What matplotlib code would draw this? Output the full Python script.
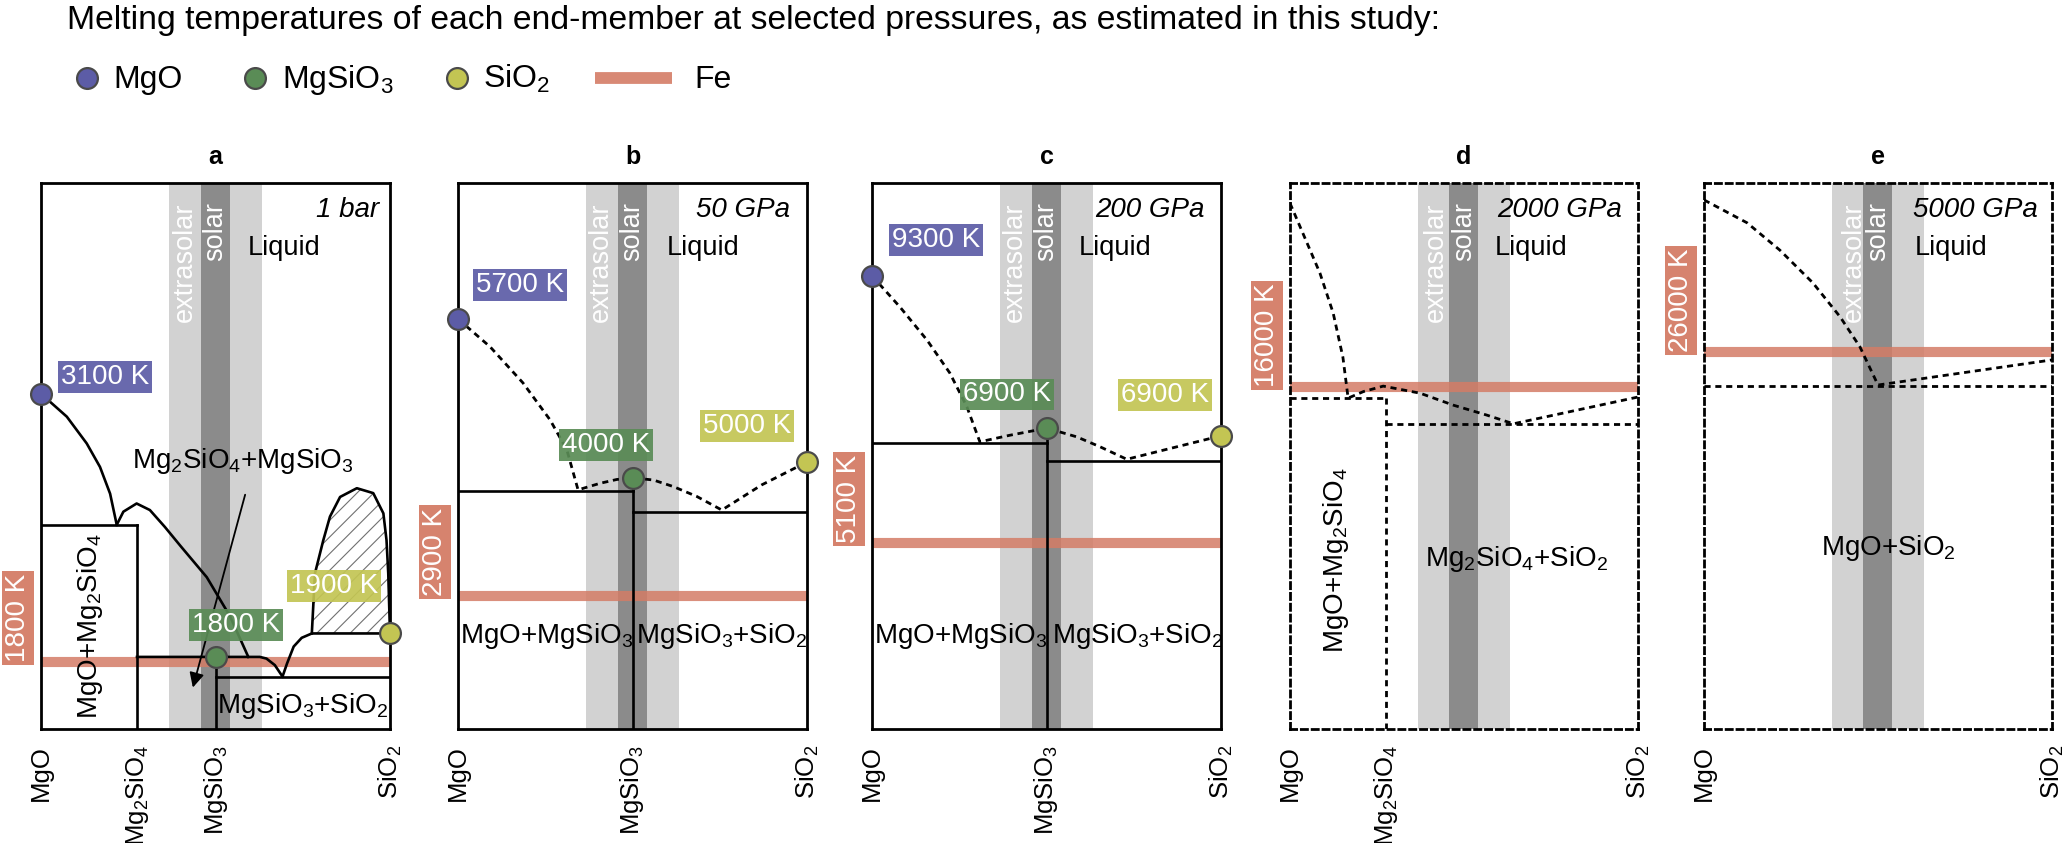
import matplotlib.pyplot as plt

plt.rcParams['font.family'] = ['Liberation Sans', 'DejaVu Sans']
plt.rcParams['mathtext.fontset'] = 'custom'
plt.rcParams['mathtext.rm'] = 'Liberation Sans'
plt.rcParams['mathtext.it'] = 'Liberation Sans:italic'
plt.rcParams['mathtext.bf'] = 'Liberation Sans:bold'
plt.rcParams['hatch.linewidth'] = 0.8

title = 'Melting temperatures of each end-member at selected pressures, as estimated in this study:'

# schematic axes: x = composition (0 = MgO, 1 = SiO2), y = relative temperature in a panel
panel_ids = ['a', 'b', 'c', 'd', 'e']
pressures = ['1 bar', '50 GPa', '200 GPa', '2000 GPa', '5000 GPa']
fe_temps = ['1800 K', '2900 K', '5100 K', '16000 K', '26000 K']
fe_level = [0.123, 0.244, 0.34, 0.626, 0.69]

# end-member melting points, panels a-c
mgo_level = [0.614, 0.751, 0.83]
en_level = [0.132, 0.46, 0.551]
si_level = [0.175, 0.489, 0.537]
mgo_temps = ['3100 K', '5700 K', '9300 K']
en_temps = ['1800 K', '4000 K', '6900 K']
si_temps = ['1900 K', '5000 K', '6900 K']
mgo_lab_xy = [(0.183, 0.645), (0.178, 0.813), (0.183, 0.896)]
en_lab_xy = [(0.559, 0.19), (0.424, 0.52), (0.387, 0.613)]
si_lab_xy = [(0.84, 0.262), (0.829, 0.555), (0.84, 0.612)]

# composition ticks
x_fo = 0.275
x_en = 0.5
tick_pos = [[0, x_fo, x_en, 1], [0, x_en, 1], [0, x_en, 1], [0, x_fo, 1], [0, 1]]
tick_names = [['MgO', 'Mg$_2$SiO$_4$', 'MgSiO$_3$', 'SiO$_2$'],
              ['MgO', 'MgSiO$_3$', 'SiO$_2$'],
              ['MgO', 'MgSiO$_3$', 'SiO$_2$'],
              ['MgO', 'Mg$_2$SiO$_4$', 'SiO$_2$'],
              ['MgO', 'SiO$_2$']]

# panel a (1 bar), solid phase boundaries
a_liq_mgo_x = [0, 0.074, 0.131, 0.169, 0.198, 0.217]
a_liq_mgo_y = [0.614, 0.572, 0.523, 0.480, 0.431, 0.374]
a_liq_fo_x = [0.217, 0.236, 0.274, 0.312, 0.355, 0.40, 0.475, 0.542, 0.594]
a_liq_fo_y = [0.374, 0.398, 0.413, 0.401, 0.37, 0.335, 0.278, 0.206, 0.132]
a_liq_en_x = [x_fo, 0.627, 0.646, 0.670, 0.692]
a_liq_en_y = [0.132, 0.132, 0.129, 0.117, 0.096]
a_liq_si_x = [0.692, 0.705, 0.724, 0.747, 0.776, 1.0]
a_liq_si_y = [0.096, 0.120, 0.151, 0.167, 0.175, 0.175]
a_dome_x = [0.776, 0.785, 0.809, 0.828, 0.857, 0.905, 0.952, 0.981, 0.990, 0.995, 1.0]
a_dome_y = [0.175, 0.285, 0.346, 0.389, 0.425, 0.441, 0.432, 0.395, 0.346, 0.285, 0.175]
a_sol_fo = 0.374
a_eut_right = 0.096

# panels b-e, dashed liquidus
b_liq_x = [0, 0.092, 0.186, 0.264, 0.312, 0.344, 0.407, 0.455, 0.501, 0.560, 0.617, 0.684, 0.756, 0.87, 1.0]
b_liq_y = [0.751, 0.700, 0.634, 0.566, 0.511, 0.438, 0.450, 0.457, 0.460, 0.456, 0.444, 0.426, 0.401, 0.447, 0.489]
c_liq_x = [0, 0.080, 0.158, 0.223, 0.272, 0.309, 0.395, 0.501, 0.587, 0.653, 0.730, 1.0]
c_liq_y = [0.83, 0.773, 0.712, 0.652, 0.590, 0.526, 0.538, 0.551, 0.535, 0.517, 0.494, 0.537]
d_liq_x = [0, 0.037, 0.086, 0.124, 0.152, 0.167, 0.211, 0.268, 0.374, 0.470, 0.565, 0.642, 1.0]
d_liq_y = [0.963, 0.908, 0.835, 0.762, 0.681, 0.606, 0.618, 0.628, 0.615, 0.593, 0.575, 0.559, 0.608]
e_liq_x = [0, 0.124, 0.218, 0.313, 0.391, 0.448, 0.5, 1.0]
e_liq_y = [0.969, 0.927, 0.877, 0.817, 0.755, 0.700, 0.630, 0.676]

# subsolidus levels (left / right of the middle compound)
sol_left = [None, 0.436, 0.524, 0.606, 0.628]
sol_right = [None, 0.397, 0.491, 0.559, 0.628]

liquid_x = [0.593, 0.599, 0.593, 0.589, 0.606]
press_x = [0.968, 0.951, 0.954, 0.954, 0.96]
extra_x = [0.413, 0.41, 0.41, 0.418, 0.43]

C_MGO = '#5c5ca6'
C_EN = '#5a8c56'
C_SI = '#c3c553'
C_FE = '#d47c66'
GREY_L = '#d2d2d2'
GREY_D = '#8b8b8b'
EDGE = '#4a4a4a'

fig = plt.figure(figsize=(20.7, 8.43), dpi=100)
W, H = 2070, 843

# overlay in pixel units for title, legend, panel letters
ov = fig.add_axes([0, 0, 1, 1])
ov.set_xlim(0, W)
ov.set_ylim(H, 0)
ov.axis('off')
ov.text(67, 29, title, fontsize=24.3, va='baseline', ha='left')
for cx, tx, col, name in [(87, 113, C_MGO, 'MgO'), (255, 282, C_EN, 'MgSiO$_3$'),
                          (457, 483, C_SI, 'SiO$_2$')]:
    ov.plot(cx, 78, 'o', ms=15, mfc=col, mec=EDGE, mew=1.6)
    ov.text(tx, 88, name, fontsize=23, va='baseline', ha='left')
ov.plot([595, 672], [78, 78], color=C_FE, lw=8.5, alpha=0.9, solid_capstyle='butt')
ov.text(694, 88, 'Fe', fontsize=23, va='baseline', ha='left')

lefts = [41, 458, 872, 1290, 1704]
widths = [349, 349, 349, 348, 348]
top, bottom = 183, 729

lw_solid = 1.9
lw_dash = 2.0
dash = (0, (2.2, 1.7))

for i in range(5):
    ax = fig.add_axes([lefts[i] / W, (H - bottom) / H, widths[i] / W, (bottom - top) / H])
    ax.set_xlim(0, 1)
    ax.set_ylim(0, 1)
    ax.set_xticks([])
    ax.set_yticks([])
    dashed = i >= 3
    for sp in ax.spines.values():
        sp.set_linewidth(2.0)
        if dashed:
            sp.set_linestyle(dash)
    ov.text(lefts[i] + widths[i] / 2, 157, panel_ids[i], fontsize=18, fontweight='bold',
            ha='center', va='center')

    # solar / extrasolar bands
    ax.axvspan(0.368, 0.633, color=GREY_L, lw=0, zorder=0)
    ax.axvspan(0.458, 0.541, color=GREY_D, lw=0, zorder=0.5)
    ax.text(extra_x[i], 0.965, 'extrasolar', rotation=90, color='white', fontsize=19.5,
            ha='center', va='top', zorder=1)
    ax.text(0.4995, 0.965, 'solar', rotation=90, color='white', fontsize=19.5,
            ha='center', va='top', zorder=1)

    ax.text(liquid_x[i], 0.868, 'Liquid', fontsize=19.5, ha='left', va='baseline')
    ax.text(press_x[i], 0.938, pressures[i], fontsize=20, style='italic',
            ha='right', va='baseline')

    # Fe melting temperature
    ax.axhline(fe_level[i], color=C_FE, lw=7.3, alpha=0.85, zorder=2, solid_capstyle='butt')
    ax.text(-23 / widths[i], fe_level[i], fe_temps[i], rotation=90, fontsize=20, color='white',
            ha='center', va='bottom', clip_on=False, zorder=6,
            bbox=dict(boxstyle='square,pad=0.1', fc=C_FE, ec='none', alpha=0.95))

    # composition labels under the frame
    for xp, nm in zip(tick_pos[i], tick_names[i]):
        ax.text(xp, -0.029, nm, rotation=90, rotation_mode='anchor', fontsize=18.5,
                ha='right', va='center', clip_on=False)

    if i == 0:
        ls = dict(color='black', lw=lw_solid, zorder=3, solid_joinstyle='round')
        ax.plot(a_liq_mgo_x, a_liq_mgo_y, **ls)
        ax.plot(a_liq_fo_x, a_liq_fo_y, **ls)
        ax.plot(a_liq_en_x, a_liq_en_y, **ls)
        ax.plot(a_liq_si_x, a_liq_si_y, **ls)
        ax.fill(a_dome_x, a_dome_y, facecolor='none', edgecolor='#707070', hatch='//',
                lw=0, zorder=2.5)
        ax.plot(a_dome_x, a_dome_y, **ls)
        ax.plot([0, x_fo], [a_sol_fo, a_sol_fo], **ls)
        ax.plot([x_fo, x_fo], [a_sol_fo, 0], **ls)
        ax.plot([x_en, x_en], [en_level[0], 0], **ls)
        ax.plot([x_en, 1], [a_eut_right, a_eut_right], **ls)
        ax.text(0.579, 0.478, 'Mg$_2$SiO$_4$+MgSiO$_3$', fontsize=20, ha='center', va='baseline')
        ax.annotate('', xy=(0.433, 0.071), xytext=(0.587, 0.434),
                    arrowprops=dict(arrowstyle='-|>', lw=1.3, color='black', mutation_scale=22),
                    zorder=4)
        ax.text(0.14, 0.189, 'MgO+Mg$_2$SiO$_4$', rotation=90, fontsize=20,
                ha='center', va='center')
        ax.text(0.749, 0.029, 'MgSiO$_3$+SiO$_2$', fontsize=20, ha='center', va='baseline')
    else:
        liq_x = [None, b_liq_x, c_liq_x, d_liq_x, e_liq_x][i]
        liq_y = [None, b_liq_y, c_liq_y, d_liq_y, e_liq_y][i]
        ax.plot(liq_x, liq_y, color='black', lw=lw_dash, ls=dash, zorder=3)
        sub = dict(color='black', zorder=3)
        if dashed:
            sub.update(lw=lw_dash, ls=dash)
        else:
            sub.update(lw=lw_solid)
        if i in (1, 2):
            ax.plot([0, x_en], [sol_left[i], sol_left[i]], **sub)
            ax.plot([x_en, 1], [sol_right[i], sol_right[i]], **sub)
            ax.plot([x_en, x_en], [en_level[i], 0], **sub)
            ax.text([0.253, 0.254][i - 1], 0.157, 'MgO+MgSiO$_3$', fontsize=20,
                    ha='center', va='baseline')
            ax.text([0.755, 0.762][i - 1], 0.157, 'MgSiO$_3$+SiO$_2$', fontsize=20,
                    ha='center', va='baseline')
        elif i == 3:
            ax.plot([0, 0.276], [sol_left[i], sol_left[i]], **sub)
            ax.plot([0.276, 1], [sol_right[i], sol_right[i]], **sub)
            ax.plot([0.276, 0.276], [sol_left[i], 0], **sub)
            ax.text(0.132, 0.31, 'MgO+Mg$_2$SiO$_4$', rotation=90, fontsize=20,
                    ha='center', va='center')
            ax.text(0.652, 0.299, 'Mg$_2$SiO$_4$+SiO$_2$', fontsize=20,
                    ha='center', va='baseline')
        else:
            ax.plot([0, 1], [sol_left[i], sol_left[i]], **sub)
            ax.text(0.53, 0.319, 'MgO+SiO$_2$', fontsize=20, ha='center', va='baseline')

    if i < 3:
        box = dict(boxstyle='square,pad=0.1', ec='none', alpha=0.92)
        for lev, xpt, col in [(mgo_level[i], 0, C_MGO), (en_level[i], x_en, C_EN),
                              (si_level[i], 1, C_SI)]:
            ax.plot(xpt, lev, 'o', ms=15, mfc=col, mec=EDGE, mew=1.6, clip_on=False, zorder=7)
        for (lx, ly), txt, col in [(mgo_lab_xy[i], mgo_temps[i], C_MGO),
                                   (en_lab_xy[i], en_temps[i], C_EN),
                                   (si_lab_xy[i], si_temps[i], C_SI)]:
            ax.text(lx, ly, txt, fontsize=20, color='white', ha='center', va='center',
                    zorder=4, bbox=dict(box, fc=col))

fig.savefig('out.png', dpi=100)
